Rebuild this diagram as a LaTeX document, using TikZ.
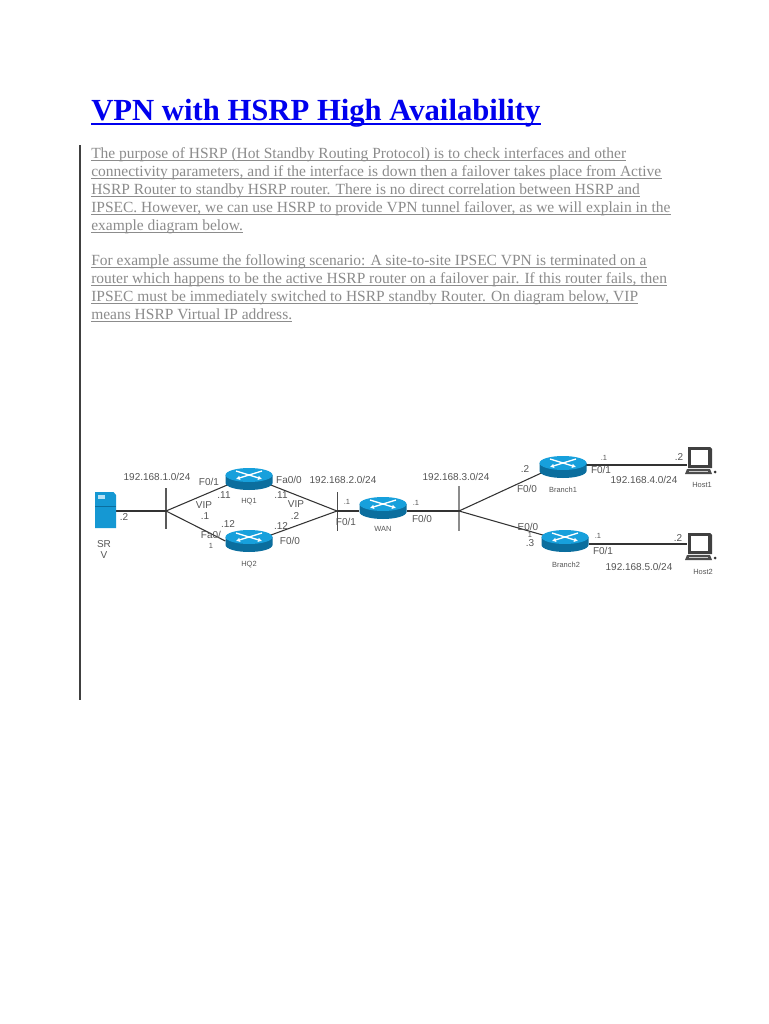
\documentclass[tikz,border=0pt]{standalone}
\usepackage{fontspec}
\setmainfont{Liberation Serif}
\newfontfamily\labelfont{Liberation Sans}
\usetikzlibrary{shapes.geometric,arrows.meta}
\definecolor{linkblue}{HTML}{0000EE}
\definecolor{bodygray}{HTML}{8C8C8C}
\definecolor{rtop}{HTML}{17A0DC}
\definecolor{rside}{HTML}{0B6E9E}
\definecolor{lblgray}{HTML}{555555}
\tikzset{
  x=0.75pt,y=-0.75pt,
  para/.style={anchor=base west,inner sep=0pt,text=bodygray,font=\fontsize{11.62pt}{13pt}\selectfont},
  ul/.style={draw=bodygray,line width=0.6pt},
  lbl/.style={inner sep=0pt,text=lblgray,font=\labelfont\fontsize{7.5pt}{8pt}\selectfont},
  sml/.style={inner sep=0pt,text=lblgray,font=\labelfont\fontsize{5.6pt}{6pt}\selectfont},
  rn/.style={ellipse,minimum width=35pt,minimum height=16.5pt,inner sep=0pt},
  wire/.style={draw=black!80,line width=0.8pt},
  bar/.style={draw=black!65,line width=1pt},
  hostbox/.style={minimum width=19.5pt,minimum height=23pt,inner sep=0pt},
}
% art for a router at the node's centre
\newcommand{\routerart}[1]{%
  \begin{scope}[shift={(#1)}]
    \fill[rside] (-23.5,-4) -- (-23.5,4) arc[start angle=180,end angle=0,x radius=23.5,y radius=7] -- (23.5,-4) -- cycle;
    \fill[rtop] (0,-4) ellipse[x radius=23.5,y radius=7];
    \draw[white,line width=1pt,-{Latex[length=3pt,width=3.5pt]}] (-13,-8) -- (13,0);
    \draw[white,line width=1pt,-{Latex[length=3pt,width=3.5pt]}] (13,-8) -- (-13,0);
  \end{scope}}
% art for a host at the node's centre
\newcommand{\hostart}[1]{%
  \begin{scope}[shift={(#1)}]
    \fill[black!75] (-12,-11) -- (10,-11) -- (12,-9) -- (12,10) -- (-12,10) -- cycle;
    \fill[white] (-9,-8) rectangle (8,7);
    \fill[black!70] (-13,11) -- (10,11) -- (12,16) -- (-15,16) -- cycle;
    \fill[black!20] (-11,12.5) rectangle (8,14);
    \fill[black!80] (15,14) circle[radius=1.5];
  \end{scope}}
\begin{document}
\begin{tikzpicture}
\useasboundingbox[fill=white] (0,0) rectangle (768,1024);

% page text
\node[anchor=base west,inner sep=0pt,text=linkblue,font=\bfseries\fontsize{23pt}{27pt}\selectfont] (title) at (91,120) {VPN with HSRP High Availability};
\draw[linkblue,line width=1.5pt] ([yshift=-3pt]title.base west) -- ([yshift=-3pt]title.base east);
\draw[draw=black!75,line width=1.1pt] (80,145) coordinate (rs) -- (80,700) coordinate (re);

\node[para] (a) at (91,158) {The purpose of HSRP (Hot Standby Routing Protocol) is to check interfaces and other};
\node[para] (b) at (91,176) {connectivity parameters, and if the interface is down then a failover takes place from Active};
\node[para] (c) at (91,194) {HSRP Router to standby HSRP router. There is no direct correlation between HSRP and};
\node[para] (d) at (91,212) {IPSEC. However, we can use HSRP to provide VPN tunnel failover, as we will explain in the};
\node[para] (e) at (91,230) {example diagram below.};
\node[para] (f) at (91,265) {For example assume the following scenario: A site-to-site IPSEC VPN is terminated on a};
\node[para] (g) at (91,283) {router which happens to be the active HSRP router on a failover pair. If this router fails, then};
\node[para] (h) at (91,301) {IPSEC must be immediately switched to HSRP standby Router. On diagram below, VIP};
\node[para] (i) at (91,319) {means HSRP Virtual IP address.};
\foreach \n in {a,b,c,d,e,f,g,h,i}
  \draw[ul] ([yshift=-1.6pt]\n.base west) -- ([yshift=-1.6pt]\n.base east);

% anchors for the network
\node[rn] (hq1) at (249,479) {};
\node[rn] (hq2) at (249,541) {};
\node[rn] (wan) at (383,508) {};
\node[rn] (br1) at (563,467) {};
\node[rn] (br2) at (565,541) {};
\node[hostbox] (host1) at (700,458) {};
\node[hostbox] (host2) at (700,544) {};
\node[minimum width=15.75pt,minimum height=27pt,inner sep=0pt] (srv) at (105.5,510) {};
\coordinate (j1) at (166,511);
\coordinate (j2) at (337,511);
\coordinate (j3) at (459,511);
\coordinate (b1a) at (166,488); \coordinate (b1b) at (166,529);
\coordinate (b2a) at (337,492); \coordinate (b2b) at (337,531);
\coordinate (b3a) at (459,486); \coordinate (b3b) at (459,531);

% segments
\draw[bar] (b1a) -- (b1b);
\draw[draw=black!70,line width=0.7pt] (b2a) -- (b2b);
\draw[draw=black!45,line width=1.7pt] (b3a) -- (b3b);

% connectors
\draw[wire] (srv.east |- j1) -- (j1);
\draw[wire] (j1) -- (hq1.195);
\draw[wire] (j1) -- (hq2.180);
\draw[wire] (hq1.-15) -- (j2);
\draw[wire] (hq2.15) -- (j2);
\draw[wire] (j2) -- (wan.west |- j2);
\draw[wire] (wan.east |- j3) -- (j3);
\draw[wire] (j3) -- (br1.195);
\draw[wire] (j3) -- (br2.165);
\draw[wire] (br1.5) -- (host1.west |- br1.5);
\draw[wire] (br2.east |- host2.west) -- (host2.west);

% equipment
\routerart{hq1}
\routerart{hq2}
\routerart{wan}
\routerart{br1}
\routerart{br2}
\hostart{host1}
\hostart{host2}
\begin{scope}[shift={(srv)}]
  \fill[rtop!85!rside] (-10.5,-18) -- (8,-18) -- (10.5,-15) -- (10.5,18) -- (-10.5,18) -- cycle;
  \fill[white!70!rtop] (-8,-15) rectangle (-1,-11);
  \draw[rside,line width=0.5pt] (-10.5,-4) -- (10.5,-4);
\end{scope}

% labels left
\node[lbl] (l1) at (157,477) {192.168.1.0/24};
\node[lbl] (l2) at (209,482) {F0/1};
\node[lbl] (l3) at (224,495) {.11};
\node[lbl] (l4) at (204,505) {VIP};
\node[lbl] (l5) at (205,516) {.1};
\node[lbl] (l6) at (228,524) {.12};
\node[lbl] (l7) at (211,535) {Fa0/};
\node[sml] (l8) at (211,546) {1};
\node[sml] (l9) at (249,502) {HQ1};
\node[sml] (l10) at (249,565) {HQ2};
\node[lbl] (l11) at (289,480) {Fa0/0};
\node[lbl] (l12) at (343,480) {192.168.2.0/24};
\node[lbl] (l13) at (281,495) {.11};
\node[lbl] (l14) at (296,504) {VIP};
\node[lbl] (l15) at (295,516) {.2};
\node[lbl] (l16) at (281,526) {.12};
\node[lbl] (l17) at (290,541) {F0/0};
\node[sml] (l18) at (347,502) {.1};
\node[lbl] (l19) at (346,522) {F0/1};
\node[lbl] (l20) at (124,517) {.2};
\node[lbl] (l21) at (104,544) {SR};
\node[lbl] (l22) at (104,555) {V};
\node[sml] (l23) at (383,529) {WAN};
% labels right
\node[sml] (r1) at (416,503) {.1};
\node[lbl] (r2) at (422,519) {F0/0};
\node[lbl] (r3) at (456,477) {192.168.3.0/24};
\node[lbl] (r4) at (525,469) {.2};
\node[lbl] (r5) at (527,489) {F0/0};
\node[sml] (r6) at (563,490) {Branch1};
\node[sml] (r7) at (604,458) {.1};
\node[lbl] (r8) at (601,470) {F0/1};
\node[lbl] (r9) at (644,480) {192.168.4.0/24};
\node[lbl] (r10) at (679,457) {.2};
\node[sml] (r11) at (702,485) {Host1};
\node[lbl] (r12) at (528,527) {E0/0};
\node[sml] (r13) at (530,535) {1};
\node[lbl] (r14) at (530,543) {.3};
\node[sml] (r15) at (566,565) {Branch2};
\node[sml] (r16) at (598,536) {.1};
\node[lbl] (r17) at (603,551) {F0/1};
\node[lbl] (r18) at (639,567) {192.168.5.0/24};
\node[lbl] (r19) at (678,538) {.2};
\node[sml] (r20) at (703,572) {Host2};
\end{tikzpicture}
\end{document}
